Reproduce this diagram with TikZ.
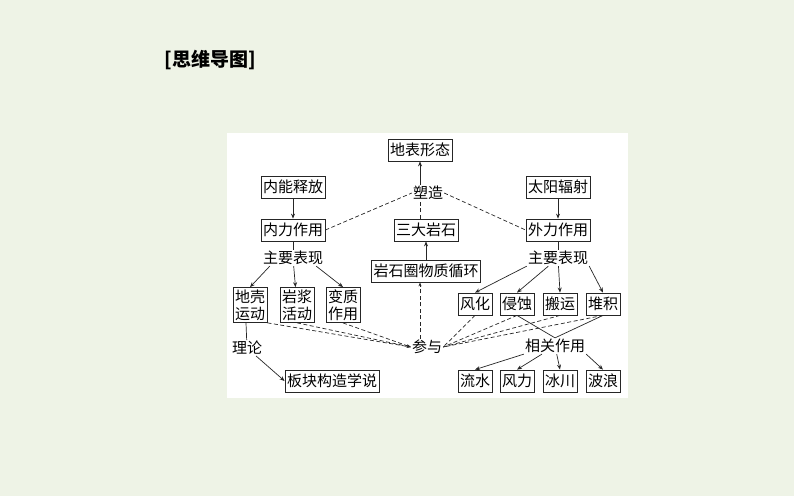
\documentclass[tikz,border=0pt]{standalone}
\usepackage{fontspec}
\newfontfamily\cjk{Noto Sans CJK SC}
\usetikzlibrary{arrows.meta}
\definecolor{bg}{HTML}{EEF3E6}
\begin{document}
\begin{tikzpicture}[x=1pt,y=-1pt,
  bx/.style={draw=black!85,line width=0.8pt,fill=white,inner sep=2pt,minimum height=22pt,font=\cjk\fontsize{15}{17}\selectfont},
  bx2/.style={bx,align=center,font=\cjk\fontsize{15}{17}\selectfont},
  tx/.style={inner sep=1pt,fill=white,font=\cjk\fontsize{15}{17}\selectfont},
  ln/.style={line width=0.7pt,draw=black!85},
  ar/.style={ln,-{Stealth[length=5pt,width=4pt]}},
  da/.style={ln,dashed,dash pattern=on 4pt off 2.5pt},
  dar/.style={da,-{Stealth[length=4pt,width=3pt]}}]
\fill[bg] (0,0) rectangle (794,496);
\useasboundingbox (0,0) rectangle (794,496);
\fill[white] (227,133) rectangle (628,398);
\node[font=\cjk\bfseries\fontsize{19}{22}\selectfont] (title) at (210,60) {[思维导图]};
\node[bx] (dbxt) at (420,150) {地表形态};
\node[tx] (sz) at (428,193) {塑造};
\node[bx] (sdys) at (426,230) {三大岩石};
\node[bx] (yshx) at (426,271) {岩石圈物质循环};
\node[bx] (nnsf) at (293,187) {内能释放};
\node[bx] (nlzy) at (293,230) {内力作用};
\node[tx] (zybx1) at (293,258) {主要表现};
\node[bx2] (dkyd) at (250,305) {地壳\\运动};
\node[bx2] (yjhd) at (297,305) {岩浆\\活动};
\node[bx2] (bzzy) at (343,305) {变质\\作用};
\node[tx] (ll) at (247,348) {理论};
\node[bx] (bkgz) at (332,381) {板块构造学说};
\node[tx] (cy) at (427,347) {参与};
\node[bx] (tyfs) at (558,187) {太阳辐射};
\node[bx] (wlzy) at (558,230) {外力作用};
\node[tx] (zybx2) at (558,258) {主要表现};
\node[bx] (fh) at (475,304) {风化};
\node[bx] (qs) at (517,304) {侵蚀};
\node[bx] (by) at (560,304) {搬运};
\node[bx] (dj) at (603,304) {堆积};
\node[tx] (xgzy) at (555,346) {相关作用};
\node[bx] (ls) at (475,381) {流水};
\node[bx] (fl) at (517,381) {风力};
\node[bx] (bc) at (560,381) {冰川};
\node[bx] (bl) at (603,381) {波浪};
\coordinate (vx) at (420,0);
% connectors
\draw[ar] (nnsf) -- (nlzy);
\draw[ar] (tyfs) -- (wlzy);
\draw[da] (nlzy.east) -- (sz.west);
\draw[da] (sz.east) -- (wlzy.west);
\draw[ar] (sz.north -| vx) -- (dbxt.south -| vx);
\draw[da] (sdys.north -| vx) -- (sz.south -| vx);
\draw[ar] (yshx) -- (sdys);
\draw[dar] (cy.north -| vx) -- (yshx.south -| vx);
\draw[ln] (nlzy) -- (zybx1);
\draw[ar] (zybx1.south west) ++(8,0) coordinate (a1) (a1) -- (dkyd.north);
\draw[ar] (zybx1) -- (yjhd);
\draw[ar] (zybx1.south east) ++(-8,0) coordinate (a2) (a2) -- (bzzy.north);
\draw[ln] (dkyd.south) ++(-4,0) coordinate (a3) (a3) -- (ll);
\draw[ar] (ll) -- (bkgz.west);
\draw[dar] (dkyd.south east) -- (cy.west);
\draw[dar] (yjhd.south) -- (cy.west);
\draw[dar] (bzzy.south) -- (cy.west);
\draw[da] (fh.south) -- (cy.east);
\draw[da] (qs.south) -- (cy.east);
\draw[da] (by.south) -- (cy.east);
\draw[da] (dj.south) -- (cy.east);
\draw[ln] (wlzy) -- (zybx2);
\draw[ar] (zybx2.south west) -- (fh.north);
\draw[ar] (zybx2) -- (qs.north);
\draw[ar] (zybx2) -- (by.north);
\draw[ar] (zybx2.south east) -- (dj.north);
\draw[ln] (qs.south) -- (xgzy.north);
\draw[ln] (dj.south) -- (xgzy.north);
\draw[ar] (xgzy.south west) -- (ls.north);
\draw[ar] (xgzy) -- (fl.north);
\draw[ar] (xgzy) -- (bc.north);
\draw[ar] (xgzy.south east) -- (bl.north);
\end{tikzpicture}
\end{document}
